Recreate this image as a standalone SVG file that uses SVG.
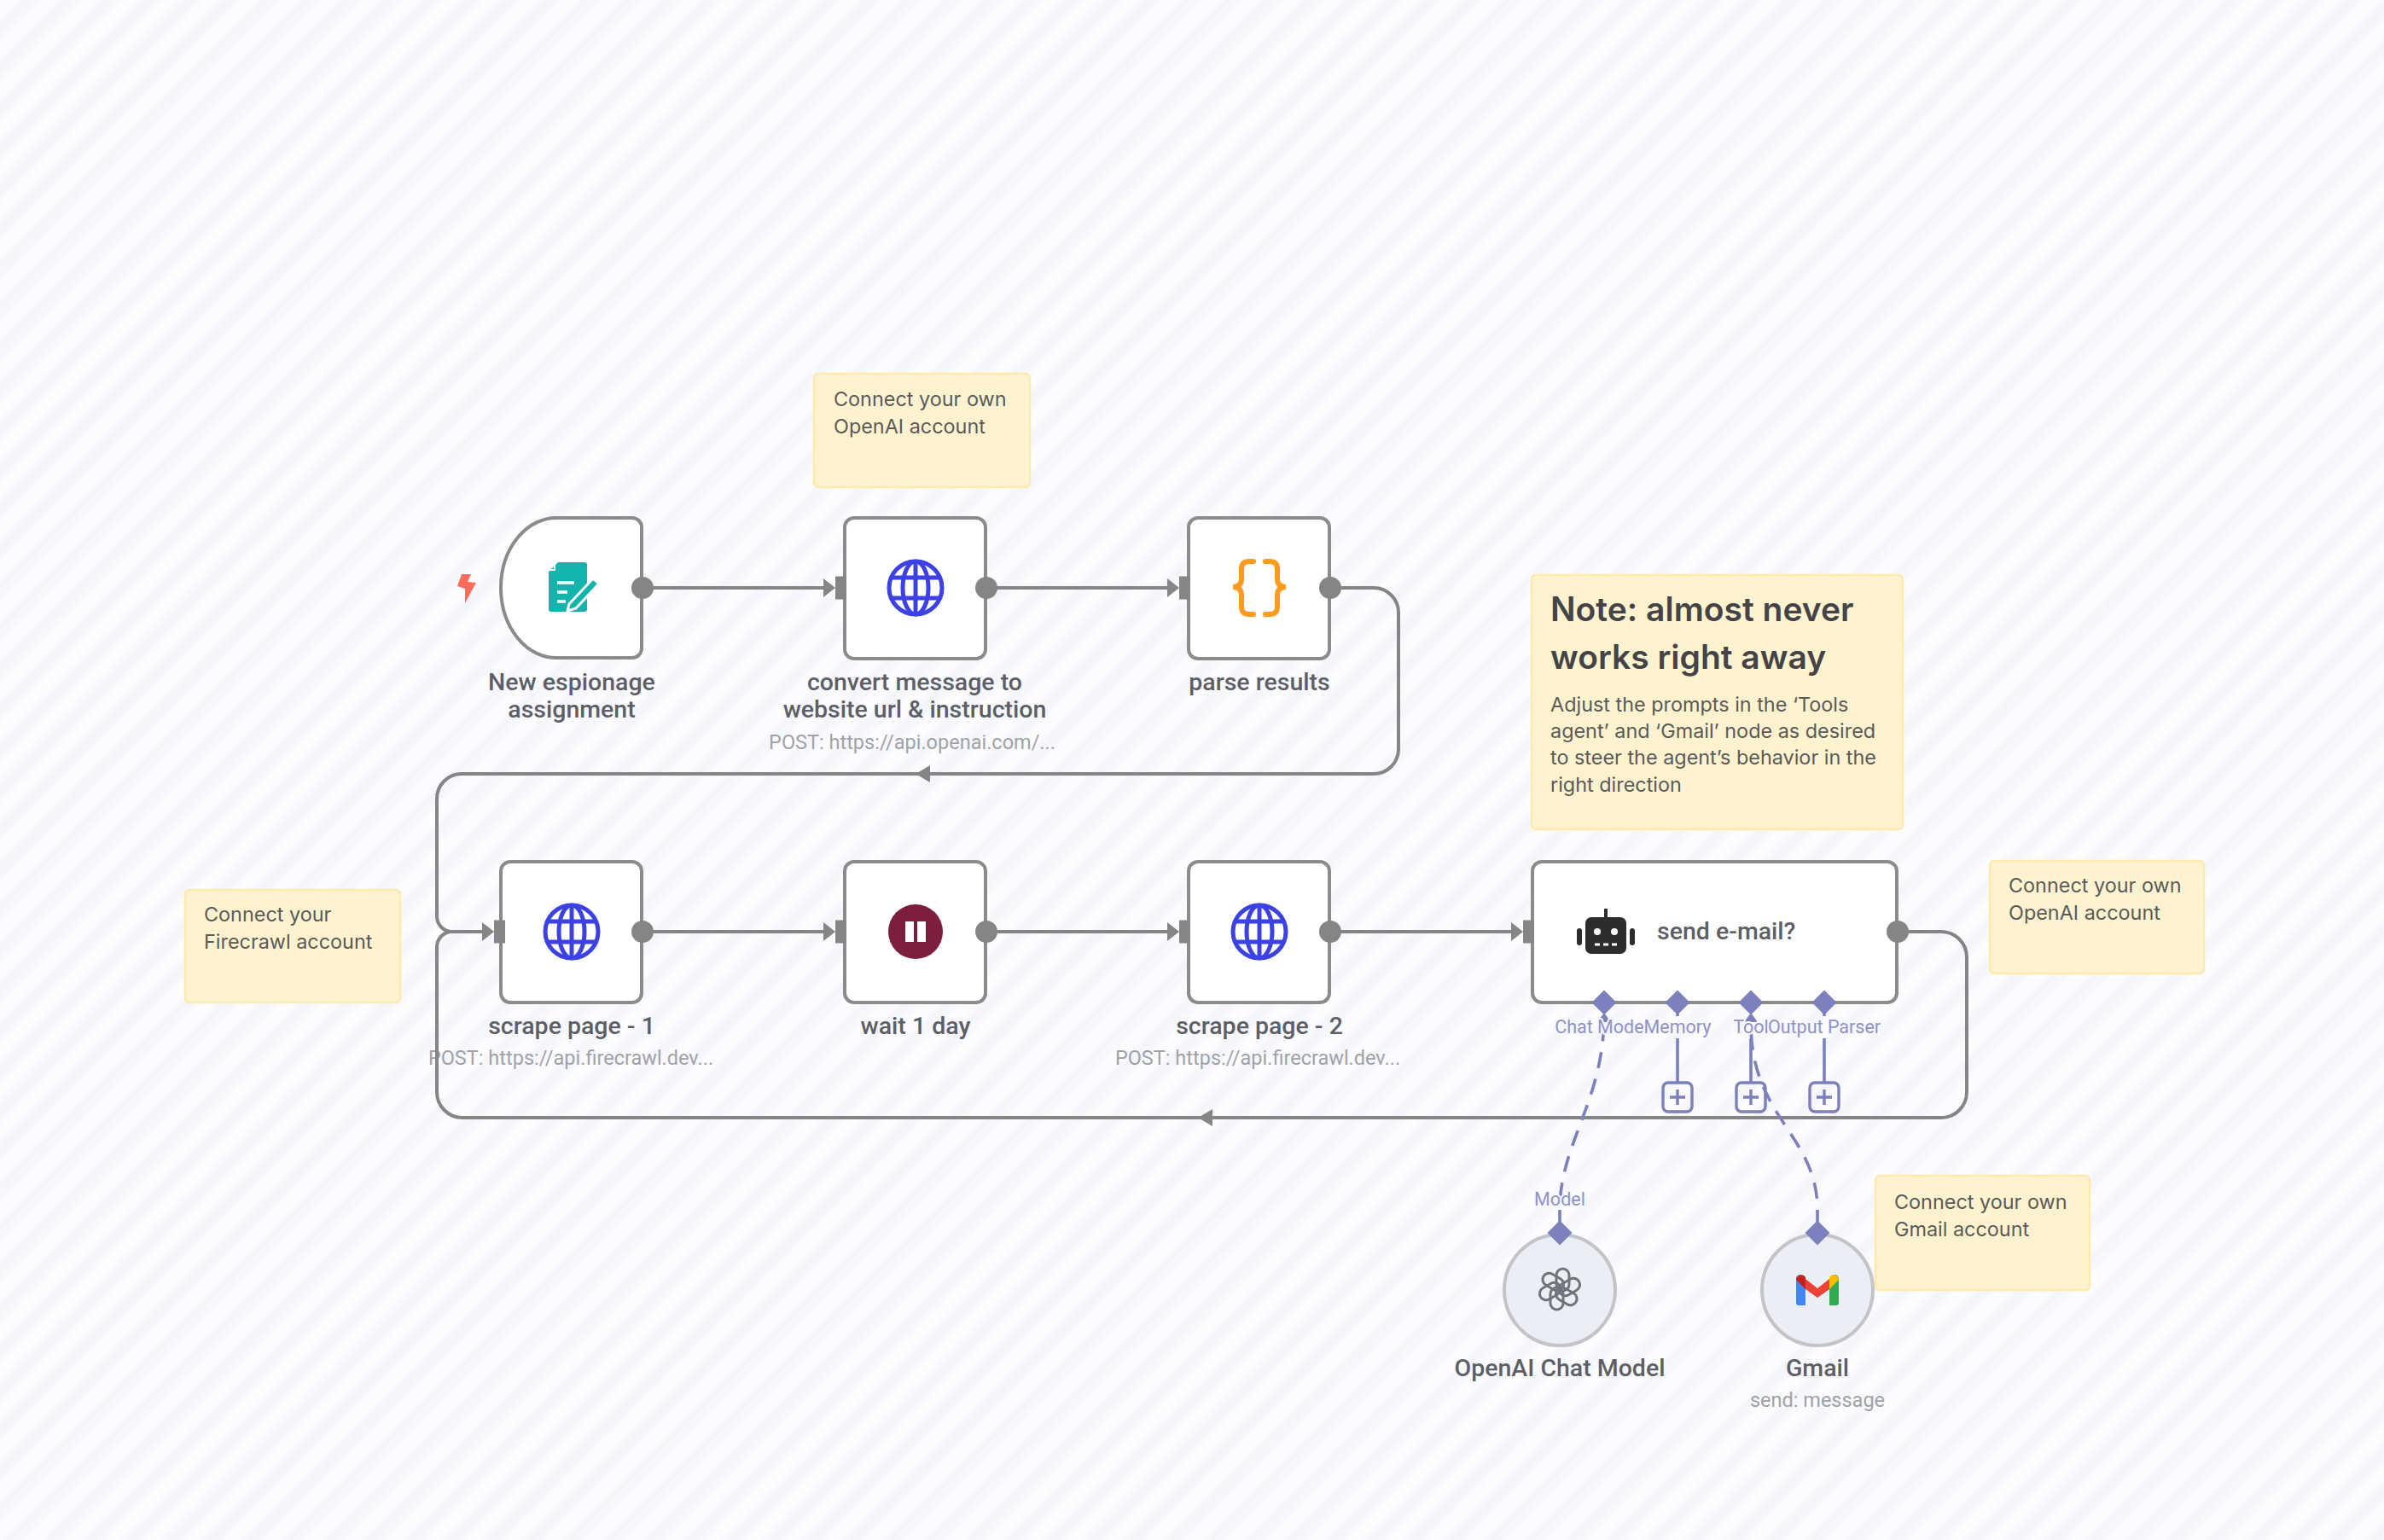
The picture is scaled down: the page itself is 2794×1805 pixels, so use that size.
<svg xmlns="http://www.w3.org/2000/svg" width="2794" height="1805" viewBox="0 0 2794 1805">
<style>
text{font-family:"Inter","Liberation Sans",sans-serif}
.sticky{fill:#fff3cf;stroke:#ffe9ad;stroke-width:2.5}
.node{fill:#fff;stroke:#8b8b8b;stroke-width:4}
.sub-node{fill:#eceef5;stroke:#c4c4c8;stroke-width:4}
.name{font-family:"Roboto","Liberation Sans",sans-serif;font-size:28.5px;font-weight:500;fill:#5c5f66;text-anchor:middle}
.sub{font-family:"Roboto","Liberation Sans",sans-serif;font-size:23.5px;fill:#a0a2a8;text-anchor:middle}
.note{font-size:23.4px;fill:#5a5a5a}
.title{font-size:39px;font-weight:600;fill:#444448}
.wire{fill:none;stroke:#858585;stroke-width:4}
.pwire{fill:none;stroke:#7c80bd;stroke-width:3.6}
.dash{stroke-dasharray:19 13;stroke-dashoffset:19}
.dot{fill:#858585}
.port{fill:#858585}
.dia{fill:#7c80bd}
.plabel{font-family:"Roboto","Liberation Sans",sans-serif;font-size:21.5px;fill:#8f92c9;text-anchor:middle;paint-order:stroke;stroke:#f8f9fc;stroke-width:4px;stroke-linejoin:round}
.plus{fill:none;stroke:#7c80bd;stroke-width:3.4}
.globe{fill:none;stroke:#3b41e3;stroke-width:5}
</style>
<defs>
<linearGradient id="soft" x1="0" x2="1" y1="0" y2="0">
<stop offset="0" stop-color="#f9fafe"/><stop offset="0.16" stop-color="#fdfdff"/><stop offset="0.4" stop-color="#fcfcff"/><stop offset="0.66" stop-color="#f4f5fb"/><stop offset="0.9" stop-color="#f7f8fc"/><stop offset="1" stop-color="#f9fafe"/>
</linearGradient>
<pattern id="stripes" width="33.2" height="33.2" patternUnits="userSpaceOnUse" patternTransform="rotate(45)">
<rect width="33.2" height="33.2" fill="url(#soft)"/>
</pattern>
<g id="input"><polygon points="-22,-11 -8,0 -22,11"/><rect x="-8" y="-13.5" width="13" height="27"/></g>
<polygon id="arrow-left" points="-9,0 8,-10 8,10" fill="#858585"/>
<g id="globe-icon" class="globe"><circle r="31"/><ellipse rx="15" ry="31"/><line y1="-31" y2="31"/><line x1="-28" x2="28" y1="-12" y2="-12"/><line x1="-28" x2="28" y1="12" y2="12"/></g>
<path id="diamond" d="M0-14.5 14.5 0 0 14.5-14.5 0Z"/>
<g id="plusbox"><rect x="-17" y="-17" width="34" height="34" rx="6" class="plus"/><path d="M-9 0H9M0-9V9" class="plus"/></g>
<rect id="lobe" x="-4" y="-24" width="15" height="26" rx="7.5" fill="none" stroke="#70747a" stroke-width="3"/>
</defs>
<rect id="background" width="2794" height="1805" fill="url(#stripes)"/>

<g id="sticky-openai-1"><rect class="sticky" x="954" y="438" width="253" height="133" rx="5"/><text class="note" x="977" y="476">Connect your own</text><text class="note" x="977" y="508">OpenAI account</text></g>
<g id="sticky-firecrawl"><rect class="sticky" x="217" y="1043" width="252" height="132" rx="5"/><text class="note" x="239" y="1080">Connect your</text><text class="note" x="239" y="1112">Firecrawl account</text></g>
<g id="sticky-note"><rect class="sticky" x="1795" y="674" width="435" height="298" rx="5"/>
<text class="title" x="1817" y="728">Note: almost never</text><text class="title" x="1817" y="784">works right away</text>
<text class="note" x="1817" y="834">Adjust the prompts in the ‘Tools</text><text class="note" x="1817" y="865">agent’ and ‘Gmail’ node as desired</text><text class="note" x="1817" y="896">to steer the agent’s behavior in the</text><text class="note" x="1817" y="928">right direction</text></g>
<g id="sticky-openai-2"><rect class="sticky" x="2332" y="1009" width="251" height="132" rx="5"/><text class="note" x="2354" y="1046">Connect your own</text><text class="note" x="2354" y="1078">OpenAI account</text></g>
<g id="sticky-gmail"><rect class="sticky" x="2198" y="1378" width="251" height="134" rx="5"/><text class="note" x="2220" y="1417">Connect your own</text><text class="note" x="2220" y="1449">Gmail account</text></g>

<g id="node-trigger">
<path class="node" d="M653 607H741a11 11 0 0 1 11 11V760a11 11 0 0 1-11 11H653A65 82 0 0 1 587 689A65 82 0 0 1 653 607Z"/>
<polygon points="541,673 552,673 548,682 558,683 545,707 545,690 536,687" fill="#ff6d5a"/>
<path d="M654 659H685a3 3 0 0 1 3 3V714a3 3 0 0 1-3 3H646a3 3 0 0 1-3-3V670Z" fill="#14b4ae"/><path d="M650 661V668H643" fill="none" stroke="#fff" stroke-width="2"/>
<path d="M653 683H673M653 694H665M653 705H663" stroke="#fff" stroke-width="3.4" fill="none"/>
<path d="M667 708 695 678 702 684 675 713 665 716Z" fill="#14b4ae" stroke="#fff" stroke-width="3"/>
<text class="name" x="670" y="809">New espionage</text><text class="name" x="670" y="841">assignment</text>
</g>
<g id="node-convert"><rect class="node" x="990" y="607" width="165" height="165" rx="11"/><use href="#globe-icon" x="1073" y="689"/>
<text class="name" x="1072" y="809">convert message to</text><text class="name" x="1072" y="841">website url &amp; instruction</text><text class="sub" x="1069" y="878">POST: https://api.openai.com/...</text></g>
<g id="node-parse"><rect class="node" x="1393" y="607" width="165" height="165" rx="11"/>
<path d="M1469 658H1464Q1455 658 1455 667V678Q1455 688 1445 688Q1455 688 1455 698V711Q1455 720 1464 720H1469M1483 658H1488Q1497 658 1497 667V678Q1497 688 1507 688Q1497 688 1497 698V711Q1497 720 1488 720H1483" fill="none" stroke="#ff9a1f" stroke-width="6" stroke-linecap="round"/>
<text class="name" x="1476" y="809">parse results</text></g>
<g id="node-scrape-1"><rect class="node" x="587" y="1010" width="165" height="165" rx="11"/><use href="#globe-icon" x="670" y="1092"/>
<text class="name" x="670" y="1212">scrape page - 1</text><text class="sub" x="669" y="1248">POST: https://api.firecrawl.dev...</text></g>
<g id="node-wait"><rect class="node" x="990" y="1010" width="165" height="165" rx="11"/><circle cx="1073" cy="1092" r="32" fill="#7d1d3f"/><rect x="1061" y="1080" width="10" height="24" fill="#fff"/><rect x="1075" y="1080" width="10" height="24" fill="#fff"/>
<text class="name" x="1073" y="1212">wait 1 day</text></g>
<g id="node-scrape-2"><rect class="node" x="1393" y="1010" width="165" height="165" rx="11"/><use href="#globe-icon" x="1476" y="1092"/>
<text class="name" x="1476" y="1212">scrape page - 2</text><text class="sub" x="1474" y="1248">POST: https://api.firecrawl.dev...</text></g>
<g id="node-agent"><rect class="node" x="1796" y="1010" width="427" height="165" rx="11"/>
<g fill="#2d2d30"><rect x="1858" y="1075" width="48" height="43" rx="7"/><rect x="1880" y="1065" width="4" height="12"/><rect x="1848" y="1088" width="6" height="20" rx="3"/><rect x="1910" y="1088" width="6" height="20" rx="3"/></g>
<circle cx="1872" cy="1092" r="4" fill="#fff"/><circle cx="1892" cy="1092" r="4" fill="#fff"/><path d="M1869 1107H1896" stroke="#fff" stroke-width="3" stroke-dasharray="6 4"/>
<text class="name" x="1942" y="1101" style="text-anchor:start">send e-mail?</text></g>
<g id="node-openai"><circle class="sub-node" cx="1828" cy="1512" r="65"/>
<g transform="translate(1828 1511)"><use href="#lobe"/><use href="#lobe" transform="rotate(60)"/><use href="#lobe" transform="rotate(120)"/><use href="#lobe" transform="rotate(180)"/><use href="#lobe" transform="rotate(240)"/><use href="#lobe" transform="rotate(300)"/></g>
<text class="name" x="1828" y="1613">OpenAI Chat Model</text></g>
<g id="node-gmail"><circle class="sub-node" cx="2130" cy="1512" r="65"/>
<path d="M2105 1499a5 5 0 0 1 5-5l6 5V1530H2108a3 3 0 0 1-3-3Z" fill="#4285f4"/><path d="M2155 1499a5 5 0 0 0-5-5l-6 5V1530H2152a3 3 0 0 0 3-3Z" fill="#34a853"/>
<path d="M2116 1499 2130 1510 2144 1499V1511L2130 1521 2116 1511Z" fill="#ea4335"/><path d="M2105 1500a6 6 0 0 1 9-5l2 2V1511Z" fill="#c5221f"/><path d="M2155 1500a6 6 0 0 0-9-5l-2 2V1511Z" fill="#fbbc04"/>
<text class="name" x="2130" y="1613">Gmail</text><text class="sub" x="2130" y="1649">send: message</text></g>

<g id="connectors">
<path class="wire" d="M765 689H968"/><path class="wire" d="M1168 689H1371"/>
<path class="wire" d="M1571 689H1610a29 29 0 0 1 29 29V878a29 29 0 0 1-29 29H541a29 29 0 0 0-29 29V1074a18 18 0 0 0 18 18H567"/>
<path class="wire" d="M765 1092H968"/><path class="wire" d="M1168 1092H1371"/><path class="wire" d="M1571 1092H1774"/>
<path class="wire" d="M2236 1092H2275a30 30 0 0 1 30 30V1280a30 30 0 0 1-30 30H542a30 30 0 0 1-30-30V1110a18 18 0 0 1 18-18H567"/>
<use href="#arrow-left" x="1082" y="907"/><use href="#arrow-left" x="1413" y="1310"/>
<g class="port"><use href="#input" x="987" y="689"/><use href="#input" x="1390" y="689"/><use href="#input" x="587" y="1092"/><use href="#input" x="987" y="1092"/><use href="#input" x="1390" y="1092"/><use href="#input" x="1793" y="1092"/></g>
<g class="dot"><circle cx="753" cy="689" r="13"/><circle cx="1156" cy="689" r="13"/><circle cx="1559" cy="689" r="13"/><circle cx="753" cy="1092" r="13"/><circle cx="1156" cy="1092" r="13"/><circle cx="1559" cy="1092" r="13"/><circle cx="2224" cy="1092" r="13"/></g>
<path class="pwire" d="M1966 1175V1191M1966 1217V1269M2052 1217V1269M2138 1175V1191M2138 1217V1269M1828 1418V1445M2130 1418V1445"/>
<path class="pwire dash" d="M1828 1418C1828 1340 1880 1290 1880 1190"/>
<path class="pwire dash" d="M2130 1418C2130 1330 2052 1310 2052 1200"/>
<polygon class="dia" points="1880,1187 1888,1198 1872,1198"/><polygon class="dia" points="2052,1187 2060,1198 2044,1198"/>
<g class="dia"><use href="#diamond" x="1880" y="1175"/><use href="#diamond" x="1966" y="1175"/><use href="#diamond" x="2052" y="1175"/><use href="#diamond" x="2138" y="1175"/><use href="#diamond" x="1828" y="1445"/><use href="#diamond" x="2130" y="1445"/></g>
<use href="#plusbox" x="1966" y="1286"/><use href="#plusbox" x="2052" y="1286"/><use href="#plusbox" x="2138" y="1286"/>
</g>
<g id="port-labels">
<text class="plabel" x="1877" y="1211">Chat Model</text><text class="plabel" x="1966" y="1211">Memory</text><text class="plabel" x="2052" y="1211">Tool</text><text class="plabel" x="2138" y="1211">Output Parser</text><text class="plabel" x="1828" y="1413">Model</text>
</g>
</svg>
